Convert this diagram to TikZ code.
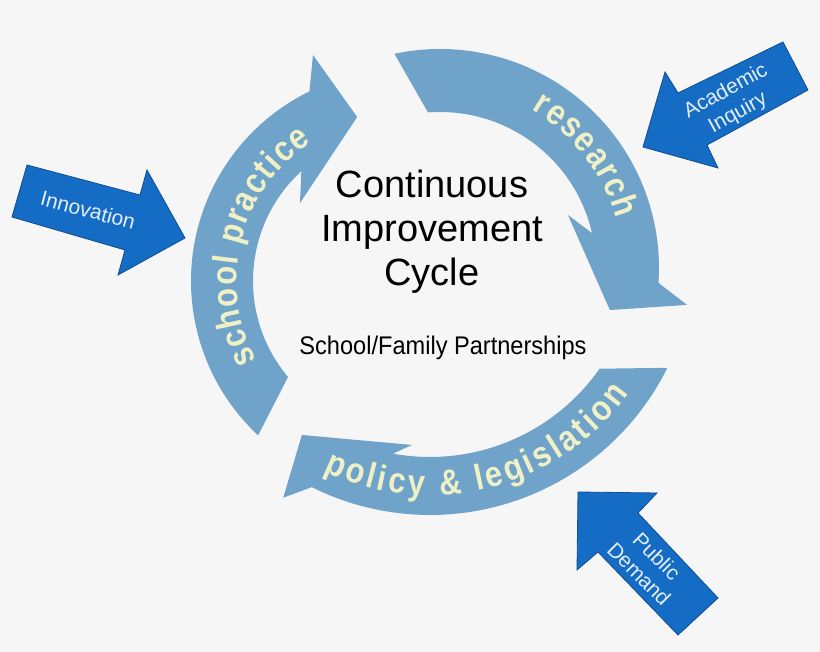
\documentclass[tikz,border=0pt]{standalone}
\usepackage{fontspec}
\setmainfont{Liberation Sans}
\usepackage{graphicx}
\definecolor{bg}{RGB}{246,246,246}
\definecolor{cyc}{RGB}{111,163,201}
\definecolor{inb}{RGB}{20,108,196}
\definecolor{inbd}{RGB}{14,78,146}
\definecolor{inbtxt}{RGB}{228,238,250}
\definecolor{arctxt}{RGB}{240,240,198}
\newcommand\arcfont{\bfseries\fontsize{31}{31}\selectfont}
% #1 baseline radius, #2 start angle, #3 direction, #4 font size, #5 tracking, #6 rotation offset, #7 letters
\newcommand\arcword[7]{%
  \gdef\arccum{0}%
  \foreach \ch/\w in {#7}{%
    \pgfmathsetmacro\arcfrac{(\arccum+\w*#4/2)/#1}%
    \pgfmathsetmacro\arcang{#2+#3*\arcfrac*57.29578}%
    \pgfmathsetmacro\arcrot{\arcang+#6}%
    \node[arcletter, rotate=\arcrot] at (\arcang:#1) {\scalebox{1}[1.15]{\ch}};
    \pgfmathsetmacro\arcnew{\arccum+\w*#4+#5}%
    \xdef\arccum{\arcnew}%
  }}
\begin{document}
\begin{tikzpicture}[x=1pt,y=1pt,
  cycarrow/.style={fill=cyc},
  inarrow/.style={fill=inb, draw=inbd, line width=0.8pt, line join=miter},
  intext/.style={text=inbtxt, align=center, inner sep=0pt, font=\fontsize{21}{25}\selectfont},
  arcletter/.style={inner sep=0pt, anchor=base, text=arctxt, font=\arcfont}
]
\fill[bg] (0,0) rectangle (820,652);
\useasboundingbox (0,0) rectangle (820,652);

% school practice
\begin{scope}[shift={(402,371)}]
  \fill[cycarrow] (227:211) arc[start angle=227,end angle=116,radius=211]
     -- (111.5:243) -- (105.3:170) -- (142.6:128.4) -- (132.5:149)
     arc[start angle=132.5,end angle=220.1,radius=149] -- cycle;
  \arcword{165.5}{208.7}{-1}{31}{1.45}{-90}{s/0.556,c/0.556,h/0.611,o/0.611,o/0.611,l/0.278,{}/0.278,p/0.611,r/0.389,a/0.556,c/0.556,t/0.333,i/0.278,c/0.556,e/0.556}
\end{scope}

% research
\begin{scope}[shift={(440,384)}]
  \fill[cycarrow] (102:219) arc[start angle=102,end angle=-3.9,radius=219]
     -- (-8.5:249.8) -- (-13.9:175) -- (22.5:138.5) -- (12.9:156)
     arc[start angle=12.9,end angle=94.4,radius=156] -- cycle;
  \arcword{182.5}{60}{-1}{31}{1.75}{-90}{r/0.389,e/0.556,s/0.556,e/0.556,a/0.556,r/0.389,c/0.556,h/0.611}
\end{scope}

% policy & legislation
\begin{scope}[shift={(430,402)}]
  \fill[cycarrow] (-26.4:265) arc[start angle=-26.4,end angle=-116.5,radius=265]
     -- (-120.65:288) -- (-124.7:225) -- (-95.3:195.8) -- (-100.3:207)
     arc[start angle=-100.3,end angle=-35,radius=207] -- cycle;
  \arcword{245.5}{-115.8}{1}{31}{3.2}{90}{p/0.611,o/0.611,l/0.278,i/0.278,c/0.556,y/0.556,{}/0.278,\&/0.722,{}/0.278,l/0.278,e/0.556,g/0.611,i/0.278,s/0.556,l/0.278,a/0.556,t/0.333,i/0.278,o/0.611,n/0.611}
\end{scope}

% input arrows
\fill[inarrow] (27,487) -- (140,457) -- (147,482) -- (185,414) -- (118,377) -- (125,402) -- (12,435) -- cycle;
\node[intext, rotate=-15] (innov) at (88,442) {Innovation};

\fill[inarrow] (783,610) -- (678,559) -- (665,580) -- (643,505) -- (718,484) -- (707,507) -- (808,562) -- cycle;
\node[intext, rotate=29] (acad) at (732,549.5) {Academic\\Inquiry};

\fill[inarrow] (718,54) -- (638,139) -- (657,159) -- (578,160) -- (577,82) -- (598,100) -- (678,17) -- cycle;
\node[intext, rotate=-45] (pub) at (648,87) {Public\\Demand};

% centre texts
\node[align=center, inner sep=0pt, anchor=north, font=\fontsize{38}{44}\selectfont] (title) at (432,482.7) {Continuous\\Improvement\\Cycle};
\node[inner sep=0pt, anchor=base, font=\fontsize{25.5}{28}\selectfont] (sfp) at (443,297) {\scalebox{0.925}[1]{School/Family Partnerships}};
\end{tikzpicture}
\end{document}
